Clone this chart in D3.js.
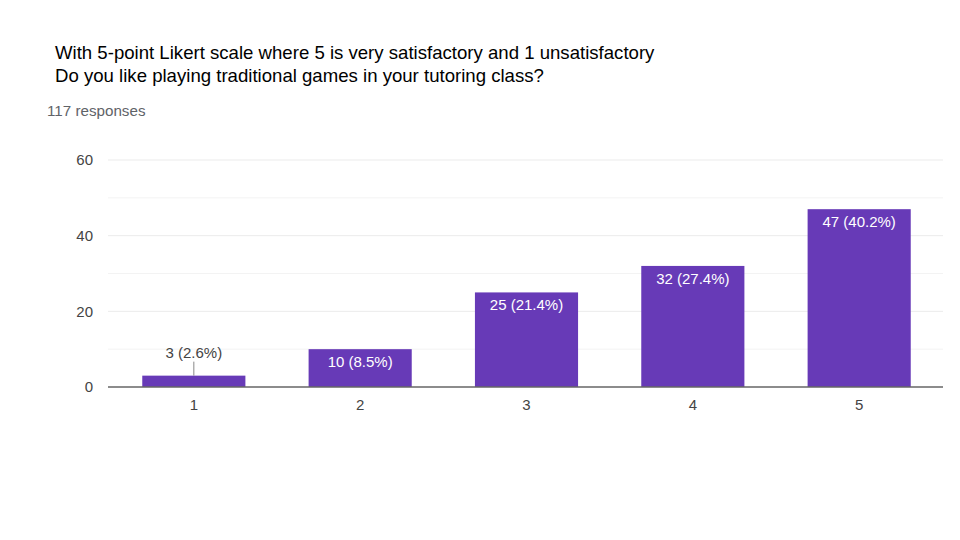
<!DOCTYPE html>
<html>
<head>
<meta charset="utf-8">
<script src="https://cdn.jsdelivr.net/npm/d3@7"></script>
<style>
  body { margin: 0; background: #fff; }
  svg { font-family: Arial, "Liberation Sans", sans-serif; }
</style>
</head>
<body>
<svg id="chart" width="960" height="540"></svg>
<script>
// chart data
const categories = ["1", "2", "3", "4", "5"];
const counts = [3, 10, 25, 32, 47];
const percents = ["2.6%", "8.5%", "21.4%", "27.4%", "40.2%"];
const yTicks = [0, 20, 40, 60];
const titleLines = [
  "With 5-point Likert scale where 5 is very satisfactory and 1 unsatisfactory",
  "Do you like playing traditional games in your tutoring class?"
];
const responsesLabel = "117 responses";

const svg = d3.select("#chart");
const plot = { left: 108, right: 943, top: 160, bottom: 387 };

// title
svg.selectAll(".title-line")
  .data(titleLines)
  .enter()
  .append("text")
  .attr("class", "title-line")
  .attr("x", 55)
  .attr("y", (d, i) => 59 + i * 23)
  .style("font-size", "18.6px")
  .style("fill", "#000")
  .text(d => d);

svg.append("text")
  .attr("x", 47)
  .attr("y", 116)
  .style("font-size", "15.2px")
  .style("fill", "#5f6368")
  .text(responsesLabel);

const xScale = d3.scaleBand()
  .domain(categories)
  .range([plot.left + 1, plot.right + 1])
  .paddingInner(0.38)
  .paddingOuter(0.2);

const yScale = d3.scaleLinear()
  .domain([0, 60])
  .range([plot.bottom, plot.top]);

// gridlines every 10
const grid = svg.append("g").attr("class", "grid");
grid.selectAll("line")
  .data(d3.range(10, 61, 10))
  .enter()
  .append("line")
  .attr("x1", plot.left)
  .attr("x2", plot.right)
  .attr("y1", d => yScale(d))
  .attr("y2", d => yScale(d))
  .style("stroke", d => d % 20 == 0 ? "#ebebeb" : "#f3f3f3")
  .style("stroke-width", "1px");

// y axis labels
const yAxis = d3.axisLeft(yScale)
  .tickValues(yTicks)
  .tickSize(0)
  .tickPadding(15);

const yAxisLine = svg.append("g")
  .attr("class", "y-axis")
  .attr("transform", "translate(" + plot.left + ",0)")
  .call(yAxis);
yAxisLine.select(".domain").remove();
yAxisLine.selectAll("text")
  .style("font-size", "15px")
  .style("font-family", "Arial, 'Liberation Sans', sans-serif")
  .style("fill", "#444");

// bars
svg.selectAll(".bar")
  .data(counts)
  .enter()
  .append("rect")
  .attr("class", "bar")
  .attr("x", (d, i) => xScale(categories[i]))
  .attr("y", d => yScale(d))
  .attr("width", xScale.bandwidth())
  .attr("height", d => yScale(0) - yScale(d))
  .style("fill", "#673ab7");

// x axis
const xAxis = d3.axisBottom(xScale)
  .tickSize(0)
  .tickPadding(12);

const xAxisLine = svg.append("g")
  .attr("class", "x-axis")
  .attr("transform", "translate(0," + plot.bottom + ")")
  .call(xAxis);
xAxisLine.select(".domain")
  .attr("d", "M" + plot.left + ",0H" + plot.right)
  .style("stroke", "#666")
  .style("stroke-width", "1.5px");
xAxisLine.selectAll("text")
  .style("font-size", "15px")
  .style("font-family", "Arial, 'Liberation Sans', sans-serif")
  .style("fill", "#444");

// value labels: inside for tall bars, above with leader for short
const labelGroup = svg.append("g").attr("class", "value-labels");
counts.forEach((d, i) => {
  const cx = xScale(categories[i]) + xScale.bandwidth() / 2;
  const label = d + " (" + percents[i] + ")";
  const barH = yScale(0) - yScale(d);
  if (barH > 24) {
    labelGroup.append("text")
      .attr("x", cx)
      .attr("y", yScale(d) + 18)
      .attr("text-anchor", "middle")
      .style("font-size", "15px")
      .style("fill", "#fff")
      .text(label);
  } else {
    labelGroup.append("line")
      .attr("x1", cx)
      .attr("x2", cx)
      .attr("y1", yScale(d))
      .attr("y2", yScale(d) - 14)
      .style("stroke", "#888")
      .style("stroke-width", "1px");
    labelGroup.append("text")
      .attr("x", cx)
      .attr("y", yScale(d) - 18)
      .attr("text-anchor", "middle")
      .style("font-size", "15px")
      .style("fill", "#444")
      .text(label);
  }
});
</script>
</body>
</html>
